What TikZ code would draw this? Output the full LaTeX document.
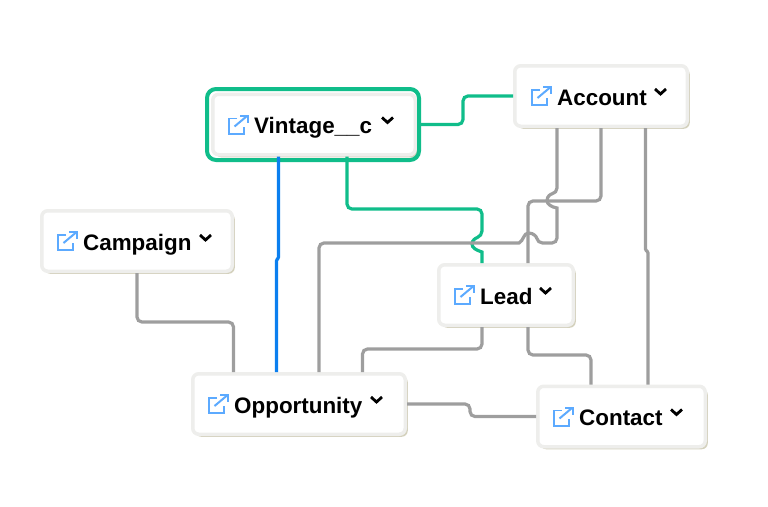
\documentclass[tikz,border=0pt]{standalone}
\usepackage{fontspec}
\setmainfont{Liberation Sans}
\usepackage{xcolor}
\usetikzlibrary{positioning,shadows}
\definecolor{linkgrey}{HTML}{9E9E9E}
\definecolor{linkgreen}{HTML}{10BD8A}
\definecolor{linkblue}{HTML}{0B7FEF}
\definecolor{iconblue}{HTML}{5CAAFF}
\definecolor{boxedge}{HTML}{EEEEEC}
\definecolor{boxshade}{HTML}{CFCCB6}
\tikzset{
    entity/.style={
        draw=boxedge,
        fill=white,
        line width=3.5pt,
        rounded corners=6pt,
        minimum height=60.5pt,
        drop shadow={shadow xshift=2.5pt, shadow yshift=-2.5pt, fill=boxshade, opacity=0.9}
    },
    title/.style={
        anchor=base west,
        inner sep=0pt,
        font=\bfseries\fontsize{22.4}{26}\selectfont
    },
    picked/.style={
        draw=linkgreen,
        line width=4pt,
        rounded corners=9pt
    },
    link/.style={
        draw=linkgrey,
        line width=3.2pt,
        rounded corners=5pt
    },
    greenlink/.style={link, draw=linkgreen},
    bluelink/.style={link, draw=linkblue},
    openicon/.pic={
        \draw[iconblue, line width=1.8pt] (9,-16) -- (0.8,-16) -- (0.8,-0.8) -- (16,-0.8) -- (16,-8);
        \draw[iconblue, line width=2pt] (6.5,-8) -- (19,-18.5);
        \draw[iconblue, line width=2pt] (12,-19) -- (19.5,-19) -- (19.5,-12);
    },
    chevron/.pic={
        \draw[black, line width=2.8pt] (1,-6) -- (6.5,-1) -- (12,-6);
    }
}

\begin{document}
\begin{tikzpicture}[x=1pt, y=-1pt]
  \useasboundingbox (0,0) rectangle (768,506);

  % Vintage__c, the picked object
  \node[entity, minimum width=202.5pt] (vint) at (314,124.5) {};
  \node[picked, minimum width=212pt, minimum height=71pt] (vintframe) at (313,124.5) {};
  \node[title] (vintname) at ([shift={(43,9)}]vint.west) {Vintage\_\_c};
  \pic at ([shift={(17,10)}]vint.west) {openicon};
  \pic at ([shift={(170,-1)}]vint.west) {chevron};

  % Other objects
  \node[entity, minimum width=172.5pt] (acct) at (601,96) {};
  \node[title] (acctname) at ([shift={(44,9)}]acct.west) {Account};
  \pic at ([shift={(18,10)}]acct.west) {openicon};
  \pic at ([shift={(141,-1)}]acct.west) {chevron};

  \node[entity, minimum width=190.5pt] (camp) at (137,241) {};
  \node[title] (campname) at ([shift={(43,9)}]camp.west) {Campaign};
  \pic at ([shift={(17,10)}]camp.west) {openicon};
  \pic at ([shift={(159,0)}]camp.west) {chevron};

  \node[entity, minimum width=134.5pt] (lead) at (506,295) {};
  \node[title] (leadname) at ([shift={(43,9)}]lead.west) {Lead};
  \pic at ([shift={(17,10)}]lead.west) {openicon};
  \pic at ([shift={(102,-1)}]lead.west) {chevron};

  \node[entity, minimum width=212.5pt] (oppo) at (299,404) {};
  \node[title] (opponame) at ([shift={(43,9)}]oppo.west) {Opportunity};
  \pic at ([shift={(17,10)}]oppo.west) {openicon};
  \pic at ([shift={(179,-1)}]oppo.west) {chevron};

  \node[entity, minimum width=167.5pt] (cont) at (621.5,416.5) {};
  \node[title] (contname) at ([shift={(43,9)}]cont.west) {Contact};
  \pic at ([shift={(17,10)}]cont.west) {openicon};
  \pic at ([shift={(134,-1)}]cont.west) {chevron};

  % Green and blue links from Vintage__c
  \draw[greenlink] (vint.east) -| (463,96) -- (acct.west);
  \draw[greenlink] ([xshift=33pt]vint.south) |- (482,209) -- (482,236) [sharp corners]
    .. controls (476,238) and (472,240) .. (472,244)
    .. controls (472,248) and (476,250) .. (482,252)
    -- ([xshift=-24pt]lead.north);
  \draw[bluelink, rounded corners=1pt] ([xshift=-35.5pt]vint.south) -- (278.5,258) -- (276.5,260) -- ([xshift=-22.5pt]oppo.north);

  % Grey links
  \draw[link] (camp.south) |- (233.5,322) -- ([xshift=-65.5pt]oppo.north);
  \draw[link] ([xshift=-44pt]acct.south) -- (557,193) [sharp corners]
    .. controls (551,194) and (547,196) .. (547,200.5)
    .. controls (547,204) and (551,207) .. (557,208)
    [rounded corners=5pt] -- (557,243) -- (537.5,243) [sharp corners]
    .. controls (536.5,237) and (534,233) .. (528.5,233)
    .. controls (523.5,233) and (523.5,241) .. (519,243)
    [rounded corners=5pt] -| ([xshift=20pt]oppo.north);
  \draw[link] ([xshift=0pt]acct.south) |- (528,201) -- ([xshift=22pt]lead.north);
  \draw[link, rounded corners=1pt] ([xshift=44.5pt]acct.south) -- (645.5,250) -- (648,252) -- ([xshift=26.5pt]cont.north);
  \draw[link] ([xshift=-24pt]lead.south) |- (362.5,349) -- ([xshift=63.5pt]oppo.north);
  \draw[link] ([xshift=22pt]lead.south) |- (591,355) -- ([xshift=-30.5pt]cont.north);
  \draw[link] (oppo.east) -| (470,416.5) -- (cont.west);
\end{tikzpicture}
\end{document}
